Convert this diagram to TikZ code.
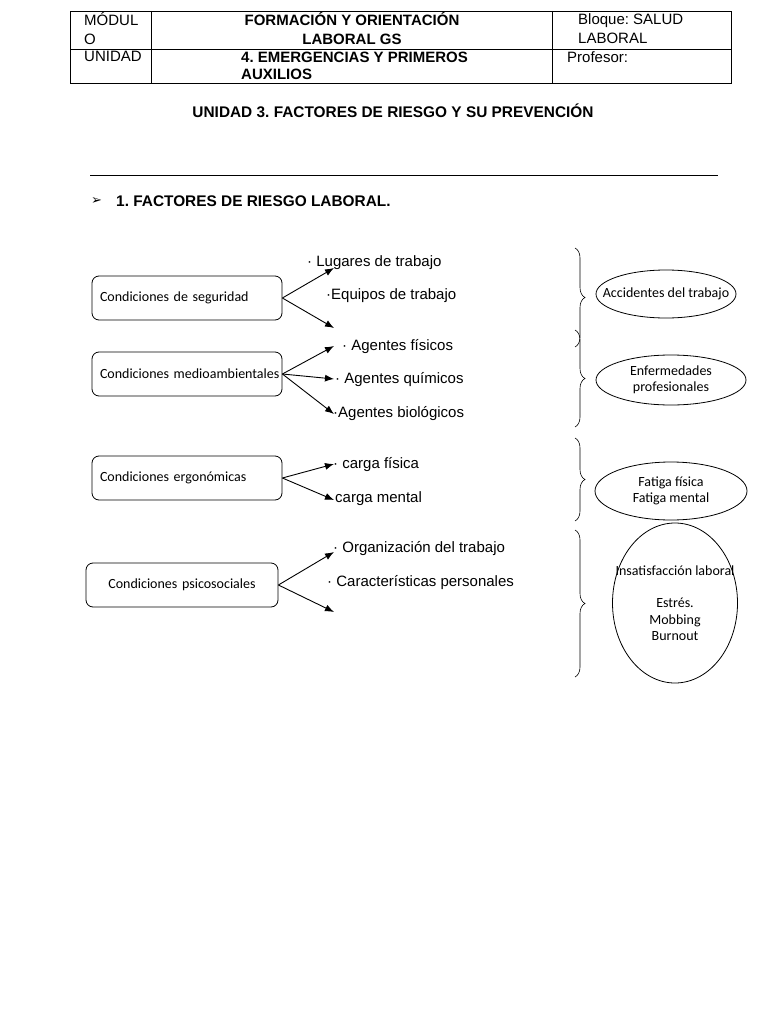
\documentclass[tikz,border=0pt]{standalone}
\usepackage{fontspec}
\setmainfont{Liberation Sans}
\newfontfamily\calibfont{Carlito}
\newfontfamily\dejafont{DejaVu Sans}
\usetikzlibrary{arrows.meta,decorations.pathreplacing,shapes.geometric}
\frenchspacing
\begin{document}
\begin{tikzpicture}[x=1pt,y=-1pt,
  cond/.style={draw, rounded corners=7pt, line width=0.8pt, minimum width=190pt, minimum height=44pt, font=\calibfont\fontsize{14}{16}\selectfont, inner sep=8pt},
  item/.style={anchor=west, inner sep=0pt, font=\fontsize{15}{18}\selectfont},
  arr/.style={-{Latex[length=9pt,width=7pt]}, line width=0.9pt},
  res/.style={draw, ellipse, line width=0.8pt, inner sep=0pt},
  restext/.style={font=\calibfont\fontsize{14}{16.5}\selectfont, align=center, inner sep=0pt},
  brc/.style={decorate, decoration={brace, amplitude=10pt}, line width=0.6pt},
  tbl/.style={font=\fontsize{15}{19}\selectfont, inner sep=0pt, align=left, anchor=west},
  tblb/.style={font=\bfseries\fontsize{15}{19}\selectfont, inner sep=0pt},
]
\useasboundingbox[fill=white] (0,0) rectangle (768,1024);

% header table
\draw[line width=0.8pt] (70,11) rectangle (731,83);
\draw[line width=0.8pt] (70,49) -- (731,49);
\draw[line width=0.8pt] (151,11) -- (151,83);
\draw[line width=0.8pt] (552,11) -- (552,83);
\node[tbl] (modulo) at (84,29) {MÓDUL\\O};
\node[tblb, align=center] (fol) at (352,28) {FORMACIÓN Y ORIENTACIÓN\\LABORAL GS};
\node[tbl] (bloque) at (578,29) {Bloque: SALUD\\LABORAL};
\node[tbl, anchor=north west] (unidad) at (84,51) {UNIDAD};
\node[tblb, font=\bfseries\fontsize{15}{17}\selectfont, align=left, anchor=west] (emerg) at (241,66) {4. EMERGENCIAS Y PRIMEROS\\AUXILIOS};
\node[tbl, anchor=north west] (prof) at (567,51) {Profesor:};

% title
\node[font=\bfseries\fontsize{15.4}{17}\selectfont, inner sep=0pt] (title) at (393,111) {UNIDAD 3. FACTORES DE RIESGO Y SU PREVENCIÓN};
\draw[line width=0.8pt] (90,175) -- (718,175);
\node[anchor=west, inner sep=0pt, font=\dejafont\fontsize{13}{15}\selectfont] (bullet) at (91,201) {➢};
\node[anchor=west, inner sep=0pt, font=\bfseries\fontsize{15.4}{17}\selectfont] (sec) at (116,201) {1. FACTORES DE RIESGO LABORAL.};

% condition boxes
\node[cond, text width=174pt, align=left] (seg) at (187,298) {Condiciones de seguridad};
\node[cond, text width=174pt, align=left] (med) at (187,374) {\mbox{Condiciones medioambientales}};
\node[cond, text width=174pt, align=left] (erg) at (187,478) {Condiciones ergonómicas};
\node[cond, text width=176pt, align=center] (psi) at (182,585) {Condiciones psicosociales};

% arrow end points
\coordinate (a1) at (334,268);
\coordinate (a2) at (334,328);
\coordinate (b1) at (334,346);
\coordinate (b2) at (334,379);
\coordinate (b3) at (334,414);
\coordinate (c1) at (334,464);
\coordinate (c2) at (334,500);
\coordinate (d1) at (334,552);
\coordinate (d2) at (334,612);

\draw[arr] (seg.east) -- (a1);
\draw[arr] (seg.east) -- (a2);
\draw[arr] (med.east) -- (b1);
\draw[arr] (med.east) -- (b2);
\draw[arr] (med.east) -- (b3);
\draw[arr] (erg.east) -- (c1);
\draw[arr] (erg.east) -- (c2);
\draw[arr] (psi.east) -- (d1);
\draw[arr] (psi.east) -- (d2);

% item texts
\node[item] (lug) at (307,263) {· Lugares de trabajo};
\node[item] (equ) at (326,296) {·Equipos de trabajo};
\node[item] (fis) at (342,347) {· Agentes físicos};
\node[item] (qui) at (335,380) {· Agentes químicos};
\node[item] (bio) at (333,414) {·Agentes biológicos};
\node[item] (cfi) at (333,465) {· carga física};
\node[item] (cme) at (335,499) {carga mental};
\node[item] (org) at (333,549) {· Organización del trabajo};
\node[item] (car) at (327,583) {· Características personales};

% braces
\coordinate (br1t) at (575,248);
\coordinate (br1b) at (575,347);
\coordinate (br2t) at (575,330);
\coordinate (br2b) at (575,427);
\coordinate (br3t) at (575,438);
\coordinate (br3b) at (575,521);
\coordinate (br4t) at (575,530);
\coordinate (br4b) at (575,677);
\draw[brc] (br1t) -- (br1b);
\draw[brc] (br2t) -- (br2b);
\draw[brc] (br3t) -- (br3b);
\draw[brc] (br4t) -- (br4b);

% result ellipses
\node[res, minimum width=140pt, minimum height=48pt] (acc) at (666,294) {};
\node[restext] (acct) at (acc) {Accidentes del trabajo};
\node[res, minimum width=150pt, minimum height=50pt] (enf) at (671,380) {};
\node[restext] (enft) at (enf) {Enfermedades\\profesionales};
\node[res, minimum width=152pt, minimum height=58pt] (fat) at (671,491) {};
\node[restext] (fatt) at (fat) {Fatiga física\\Fatiga mental};
\node[res, minimum width=125pt, minimum height=160pt] (ins) at (675,603) {};
\node[restext] (inst) at (ins) {Insatisfacción laboral\\[16pt]Estrés.\\Mobbing\\Burnout};
\end{tikzpicture}
\end{document}
